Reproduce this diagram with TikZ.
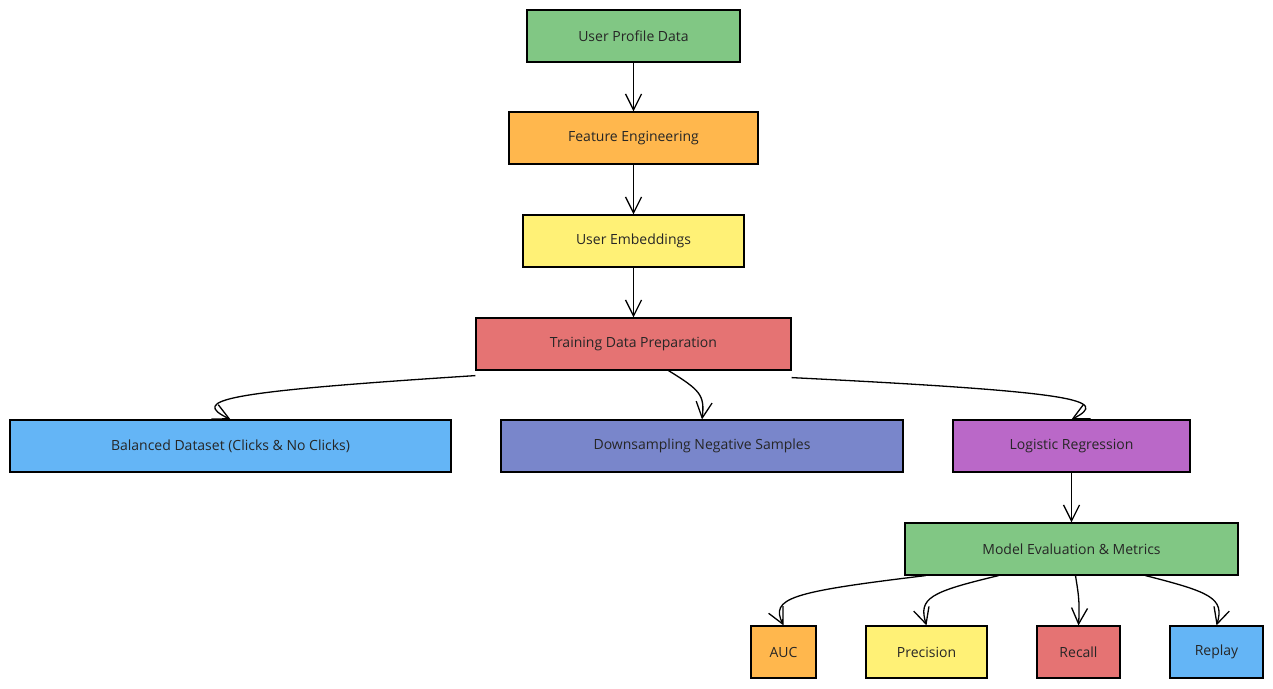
\documentclass[tikz,border=0pt]{standalone}
\usepackage{fontspec}
\setmainfont{Open Sans}
\usetikzlibrary{arrows.meta}
\definecolor{cg}{HTML}{81C784}
\definecolor{co}{HTML}{FFB74D}
\definecolor{cy}{HTML}{FFF176}
\definecolor{cr}{HTML}{E57373}
\definecolor{cb}{HTML}{64B5F6}
\definecolor{ci}{HTML}{7986CB}
\definecolor{cp}{HTML}{BA68C8}
\begin{document}
\begin{tikzpicture}[x=1pt,y=-1pt,
  box/.style={draw=black,line width=1.2pt,minimum height=52pt,inner sep=0pt,font=\fontsize{14}{16}\selectfont,text=black!85},
  arr/.style={line width=1.3pt,-{Straight Barb[length=16pt,width=16pt,line width=1.3pt]}}]
\useasboundingbox (0,0) rectangle (1273,688);
\node[box,fill=cg,minimum width=213pt] (up) at (633.5,36) {User Profile Data};
\node[box,fill=co,minimum width=249pt] (fe) at (633.5,138) {Feature Engineering};
\node[box,fill=cy,minimum width=221pt] (ue) at (633.5,241) {User Embeddings};
\node[box,fill=cr,minimum width=315pt] (tr) at (633.5,344) {Training Data Preparation};
\node[box,fill=cb,minimum width=441pt] (bal) at (230.5,446) {Balanced Dataset (Clicks \& No Clicks)};
\node[box,fill=ci,minimum width=402pt] (ds) at (702,446) {Downsampling Negative Samples};
\node[box,fill=cp,minimum width=237pt] (lr) at (1071.5,446) {Logistic Regression};
\node[box,fill=cg,minimum width=333pt] (me) at (1071.5,549) {Model Evaluation \& Metrics};
\node[box,fill=co,minimum width=65pt] (auc) at (783.5,652) {AUC};
\node[box,fill=cy,minimum width=121pt] (pr) at (926.5,652) {Precision};
\node[box,fill=cr,minimum width=83pt] (rc) at (1078.5,652) {Recall};
\node[box,fill=cb,minimum width=93pt] (rp) at (1216.5,652) {Replay};
\draw[arr] (up) -- (fe);
\draw[arr] (fe) -- (ue);
\draw[arr] (ue) -- (tr);
\draw[arr] ([yshift=-5pt]tr.south west) .. controls (220,392) and (190,400) .. (bal.north);
\draw[arr] ([xshift=35pt]tr.south) .. controls (700,390) and (705,395) .. (ds.north);
\draw[arr] ([yshift=-7pt]tr.south east) .. controls (1080,392) and (1110,400) .. (lr.north);
\draw[arr] (lr) -- (me);
\draw[arr] ([xshift=-146pt]me.south) .. controls (790,592) and (770,598) .. (auc.north);
\draw[arr] ([xshift=-73pt]me.south) .. controls (930,592) and (918,598) .. (pr.north);
\draw[arr] ([xshift=4pt]me.south) .. controls (1078,592) and (1080,600) .. (rc.north);
\draw[arr] ([xshift=74pt]me.south) .. controls (1210,592) and (1225,598) .. (rp.north);
\end{tikzpicture}
\end{document}
